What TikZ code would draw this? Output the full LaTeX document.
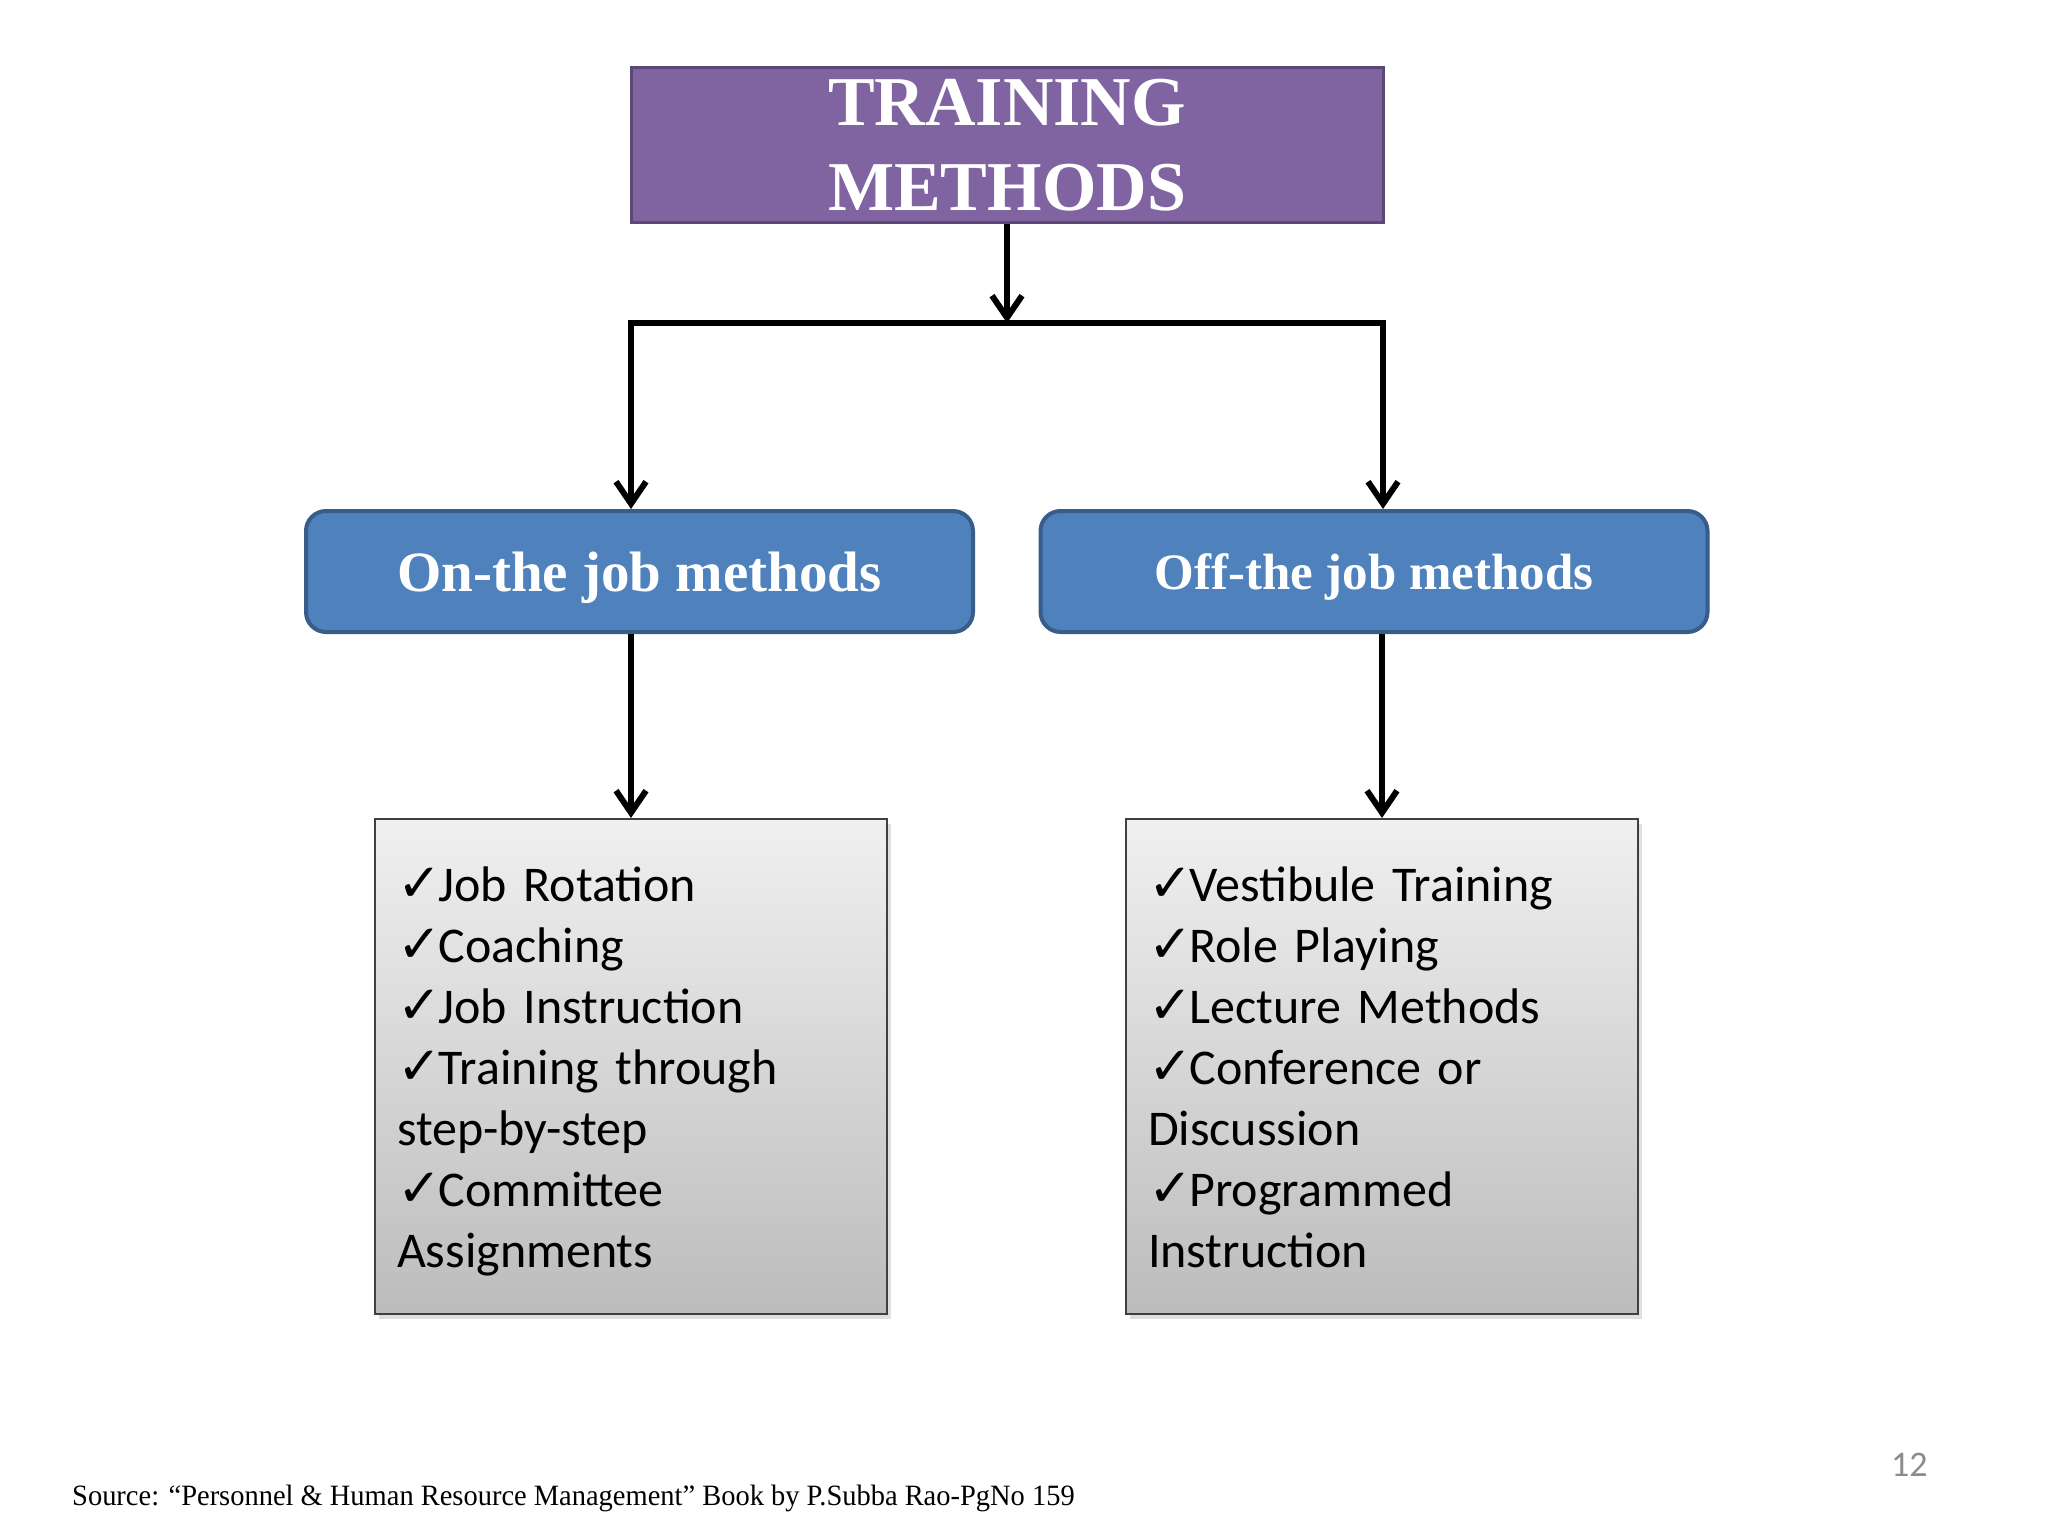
\documentclass[tikz,border=0pt]{standalone}
\usepackage{fontspec}
\setmainfont{Liberation Serif}
\newfontfamily\calibri{Carlito}
\newfontfamily\dejavu{DejaVu Sans}
\newfontfamily\srcfont[FakeStretch=0.965]{Liberation Serif}
\usepackage{tikz}
\usetikzlibrary{arrows.meta,positioning,shadows,calc}
\definecolor{tmpurple}{RGB}{128,100,162}
\definecolor{tmpurpledark}{RGB}{92,71,118}
\definecolor{tmblue}{RGB}{79,129,189}
\definecolor{tmbluedark}{RGB}{56,93,138}
\definecolor{listtop}{RGB}{240,240,240}
\definecolor{listbot}{RGB}{188,188,188}
\definecolor{pagegray}{RGB}{140,140,140}
\newcommand{\tick}{{\dejavu\fontsize{53}{61}\selectfont ✓}\hspace{-3pt}}

\begin{document}
\begin{tikzpicture}[
  x=1pt, y=-1pt,
  titlebox/.style={draw=tmpurpledark, line width=3pt, fill=tmpurple, text=white, minimum width=752pt, minimum height=154pt, align=center, font=\fontsize{70}{85}\selectfont\bfseries},
  jobbox/.style={draw=tmbluedark, line width=4pt, rounded corners=20pt, fill=tmblue, text=white, minimum width=667pt, minimum height=121pt, text depth=0pt, align=center, font=\fontsize{57}{68}\selectfont\bfseries},
  listbox/.style={draw=black!75, line width=2pt, top color=listtop, bottom color=listbot, text width=468pt, inner sep=22pt, minimum height=495pt, align=left, font=\calibri\fontsize{50}{61}\selectfont, execute at begin node=\rule{0pt}{54pt}, execute at end node=\strut, drop shadow={shadow xshift=4pt, shadow yshift=-5pt, opacity=0.25}},
  arr/.style={-{Straight Barb[length=22pt,width=30pt]}, line width=6pt, line join=miter, color=black},
  source/.style={font=\srcfont\fontsize{29.5}{34}\selectfont, anchor=base west, inner sep=0pt},
  pagenum/.style={font=\calibri\fontsize{36}{44}\selectfont, text=pagegray, anchor=base west, inner sep=0pt}
]
  \fill[white] (0,0) rectangle (2048,1536);
  \useasboundingbox (0,0) rectangle (2048,1536);

  \node[titlebox] (title) at (1007,145) {TRAINING\\METHODS};

  \node[jobbox] (onjob)  at (639.5,571.5) {On-the job methods};
  \node[jobbox, font=\fontsize{51}{62}\selectfont\bfseries] (offjob) at (1374,571.5) {Off-the job methods};

  \node[listbox] (onlist) at (631,1066.5) {\tick Job Rotation\\
    \tick Coaching\\
    \tick Job Instruction\\
    \tick Training through\\
    step-by-step\\
    \tick Committee\\
    Assignments};
  \node[listbox] (offlist) at (1382,1066.5) {\tick Vestibule Training\\
    \tick Role Playing\\
    \tick Lecture Methods\\
    \tick Conference or\\
    Discussion\\
    \tick Programmed\\
    Instruction};

  % Branching
  \coordinate (split) at (1007,323);
  \coordinate (barL) at (631,323);
  \coordinate (barR) at (1383,323);
  \draw[arr] (title.south) -- (split);
  \draw[arr] (split) -| (barL |- onjob.north);
  \draw[arr] (split) -| (barR |- offjob.north);
  \draw[arr] (onlist.north |- onjob.south) -- (onlist);
  \draw[arr] (offlist.north |- offjob.south) -- (offlist);

  % Footer
  \node[source] (src) at (72,1505) {Source: “Personnel \& Human Resource Management” Book by P.Subba Rao-PgNo 159};
  \node[pagenum] (page) at (1891,1476) {12};
\end{tikzpicture}
\end{document}
